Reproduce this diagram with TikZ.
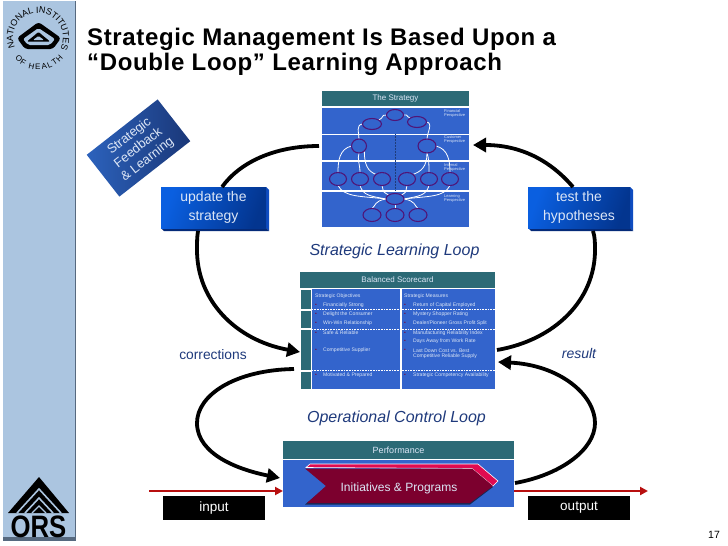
\documentclass[tikz,border=0pt]{standalone}
\usepackage{fontspec}
\usepackage{graphicx}
\setmainfont{Liberation Sans}
\usetikzlibrary{shapes.geometric,decorations.text,arrows.meta}
\definecolor{panel}{HTML}{ABC5E0}
\definecolor{panelshade}{HTML}{56697F}
\definecolor{teal}{HTML}{2C6A76}
\definecolor{band}{HTML}{3364CC}
\definecolor{navy}{HTML}{1F3A7C}
\definecolor{crimson}{HTML}{7C002E}
\definecolor{hotpink}{HTML}{E00A50}
\definecolor{redline}{HTML}{B80F0F}
\definecolor{pale}{HTML}{DCE6F6}
\definecolor{oval}{HTML}{4F1578}
\definecolor{actlight}{HTML}{0A5FE0}
\definecolor{actdark}{HTML}{03358F}
\definecolor{bevelside}{HTML}{0F4CC0}
\definecolor{bevelbot}{HTML}{052A78}
\definecolor{fblight}{HTML}{2C62BC}
\definecolor{fbdark}{HTML}{1A3778}
\newcommand{\fs}[1]{\fontsize{#1}{#1}\selectfont}
\pgfdeclarelayer{backl}
\pgfdeclarelayer{midl}
\pgfsetlayers{backl,midl,main}
\tikzset{
  rectnode/.style={rectangle,inner sep=0pt,outer sep=0pt,anchor=north west},
  tealbar/.style={rectnode,fill=teal,text=pale,font=\fs{8}},
  bandbox/.style={rectnode,fill=band},
  looplabel/.style={text=navy,font=\fs{16}\itshape,inner sep=0pt},
  sidelabel/.style={text=navy,font=\fs{13.8},inner sep=0pt},
  actionbox/.style={rectnode,left color=actlight,right color=actdark,shading angle=70,text=pale,font=\fs{14},align=center,minimum width=105pt,minimum height=41pt},
  bevel/.style={fill=#1,draw=none},
  blackbox/.style={rectnode,fill=black,text=white,font=\fs{13.5},minimum width=102pt,minimum height=24pt},
  persp/.style={inner sep=0pt,anchor=north west,align=left,text=pale,font=\fs{4}},
  sm/.style={ellipse,draw=oval,line width=1.1pt,fill=band,inner sep=0pt,outer sep=0pt,minimum width=#1*2pt,minimum height=13pt},
  link/.style={draw=white,line width=.8pt},
  bigarc/.style={draw=black,line width=3.8pt},
  bigarrow/.style={draw=black,line width=3.8pt,-{Triangle[length=13pt,width=14pt]}},
  redarrow/.style={draw=redline,line width=2.4pt,-{Triangle[length=8pt,width=8pt]}},
  cell/.style={inner sep=0pt,anchor=west,text=pale,font=\fs{5.1},align=left},
  bul/.style={inner sep=0pt,anchor=center,text=crimson,font=\fs{5}},
}
\begin{document}
\begin{tikzpicture}[x=1pt,y=-1pt]
\useasboundingbox (0,0) rectangle (728,546);
\begin{pgfonlayer}{backl}
\fill[white] (0,0) rectangle (728,546);
\node[tealbar,minimum width=147pt,minimum height=15pt] (sthead) at (322,91) {The Strategy};
\node[bandbox,minimum width=147pt,minimum height=26pt] (b1) at (322,108) {};
\node[bandbox,minimum width=147pt,minimum height=25pt] (b2) at (322,135) {};
\node[bandbox,minimum width=147pt,minimum height=28pt] (b3) at (322,162) {};
\node[bandbox,minimum width=147pt,minimum height=35pt] (b4) at (322,192) {};
\end{pgfonlayer}
% side panel
\fill[panelshade] (3,1) rectangle (76,541);
\fill[panel] (3,1) rectangle (74.5,537);
% NIH seal
\begin{scope}[x=1pt,y=1pt,shift={(38pt,-38pt)}]
\path[decorate,decoration={text along path,text={|\fs{9}|NATIONAL INSTITUTES},text align={fit to path}}] (203:25) arc[start angle=203,end angle=-25,radius=25];
\path[decorate,decoration={text along path,text={|\fs{8}|OF},text align={left}}] (222:31) arc[start angle=222,end angle=250,radius=31];
\path[decorate,decoration={text along path,text={|\fs{8}|HEALTH},text align={fit to path}}] (252:32) arc[start angle=252,end angle=322,radius=32];
\end{scope}
\fill[black,rounded corners=3pt] (38.5,22) -- (17,38) -- (25,49) -- (53,49) -- (61,38) -- cycle;
\fill[panel,rounded corners=2pt] (38.5,28) -- (23,39) -- (28,45) -- (50,45) -- (55,39) -- cycle;
\fill[black,rounded corners=1pt] (38.5,32) -- (27,41.5) -- (50,41.5) -- cycle;
\fill[panel,rounded corners=1pt] (38.5,36) -- (33,40) -- (44,40) -- cycle;
% ORS logo
\fill[black] (39,477) -- (8,513) -- (69,513) -- cycle;
\draw[panel,line width=1.6pt] (17,513) -- (39,489) -- (61,513);
\draw[panel,line width=1.6pt] (25,513) -- (39,498) -- (53,513);
\draw[panel,line width=1.4pt] (32,513) -- (39,506) -- (46,513);
\node[inner sep=0pt,font=\fs{31}\bfseries,text=black] (ors) at (38.5,527) {\scalebox{.83}[1]{ORS}};
% title
\node[inner sep=0pt,anchor=west,font=\fs{24}\bfseries\addfontfeature{LetterSpace=2.7},text=black,align=left] (title) at (87,52) {Strategic Management Is Based Upon a\\[1pt]“Double Loop” Learning Approach};
% feedback box
\node[rectangle,rotate=38,minimum width=90pt,minimum height=53pt,inner sep=0pt,left color=fblight,right color=fbdark,text=pale,font=\fs{13},align=center] (feedback) at (138.5,148) {Strategic\\[1.7pt]Feedback\\[1.7pt]\& Learning};
% Strategy map
\draw[black!40!band,densely dotted,line width=.5pt] (395,134) -- (395,190);
\node[persp] (p1) at (444,109) {Financial\\Perspective};
\node[persp] (p2) at (444,136) {Customer\\Perspective};
\node[persp] (p3) at (444,163) {Internal\\Perspective};
\node[persp] (p4) at (444,194) {Learning\\Perspective};
\node[sm=8.5,minimum height=11pt] (t) at (395,115) {};
\node[sm=9.5,minimum height=11pt] (tl) at (372,124) {};
\node[sm=9.5,minimum height=11pt] (tr) at (417,122) {};
\node[sm=7.5,minimum height=14pt] (cl) at (359,146) {};
\node[sm=9,minimum height=14pt] (cr) at (427,146) {};
\foreach \n/\x in {i1/338,i2/360,i3/382,i4/407,i5/429,i6/450} \node[sm=8.5] (\n) at (\x,179) {};
\node[sm=9,minimum height=11pt] (h) at (395,199) {};
\foreach \n/\x in {l1/372,l2/395,l3/418} \node[sm=9] (\n) at (\x,215) {};
\begin{pgfonlayer}{midl}
\draw[link] (t.west) .. controls +(-6,0) and +(6,-3) .. (tl.north east);
\draw[link] (t.east) .. controls +(6,0) and +(-6,-3) .. (tr.north west);
\draw[link] (tl.west) .. controls +(-7,1) and +(0,-6) .. (cl.north);
\draw[link] (tr.east) .. controls +(7,1) and +(0,-6) .. (cr.north);
\draw[link] (cl.west) .. controls +(-12,3) and +(0,-12) .. (i1.north);
\draw[link] (cl.south) .. controls +(-2,6) and +(0,-8) .. (i2.north);
\draw[link] (cl.south east) .. controls +(0,14) and +(-8,-3) .. (i3.north west);
\draw[link] (cr.south) .. controls +(0,14) and +(8,-3) .. (i4.north east);
\draw[link] (cr.south) .. controls +(2,6) and +(0,-8) .. (i5.north);
\draw[link] (cr.east) .. controls +(12,3) and +(0,-12) .. (i6.north);
\draw[link] (i1.south) .. controls +(6,12) and +(-24,-3) .. (h.west);
\draw[link] (i2.south) .. controls +(3,10) and +(-16,-3) .. (h.west);
\draw[link] (i3.south) .. controls +(2,8) and +(-6,-4) .. (h.north west);
\draw[link] (i4.south) .. controls +(-2,8) and +(6,-4) .. (h.north east);
\draw[link] (i5.south) .. controls +(-3,10) and +(16,-3) .. (h.east);
\draw[link] (i6.south) .. controls +(-6,12) and +(24,-3) .. (h.east);
\draw[link] (h.west) .. controls +(-12,2) and +(4,-3) .. (l1.north);
\draw[link] (h.south) -- (l2.north);
\draw[link] (h.east) .. controls +(12,2) and +(-4,-3) .. (l3.north);
\end{pgfonlayer}
% Action boxes
\fill[bevel=bevelside] (266,187) -- (269,190) -- (269,231) -- (266,228) -- cycle;
\fill[bevel=bevelbot] (161,228) -- (266,228) -- (269,231) -- (164,231) -- cycle;
\node[actionbox] (update) at (161,187) {update the\\[5pt]strategy};
\fill[bevel=bevelside] (630,187) -- (633,190) -- (633,231) -- (630,228) -- cycle;
\fill[bevel=bevelbot] (528,228) -- (630,228) -- (633,231) -- (531,231) -- cycle;
\node[actionbox,minimum width=102pt] (test) at (528,187) {test the\\[5pt]hypotheses};
% Balanced scorecard
\node[tealbar,minimum width=195pt,minimum height=16pt] (bhead) at (300,272) {Balanced Scorecard};
\node[rectnode,fill=teal,minimum width=10pt,minimum height=19pt] (s1) at (301,290) {};
\node[rectnode,fill=teal,minimum width=10pt,minimum height=17pt] (s2) at (301,311) {};
\node[rectnode,fill=teal,minimum width=10pt,minimum height=40pt] (s3) at (301,330) {};
\node[rectnode,fill=teal,minimum width=10pt,minimum height=17pt] (s4) at (301,372) {};
\node[bandbox,minimum width=88pt,minimum height=100pt] (objs) at (312,289) {};
\node[bandbox,minimum width=93pt,minimum height=100pt] (meas) at (402,289) {};
\foreach \y in {309.5,329,370.5} \draw[white,densely dotted,line width=.6pt] (312,\y) -- (495,\y);
\foreach \tx/\y [count=\i] in {{Financially Strong}/305.5,{Delight the Consumer}/314.5,{Win-Win Relationship}/323.5,{Safe \& Reliable}/333,{Competitive Supplier}/350.5,{Motivated \& Prepared}/375} {\node[bul] (ob\i) at (316,\y) {•}; \node[cell] (ot\i) at (323,\y) {\tx};}
\foreach \tx/\y [count=\i] in {{Return of Capital Employed}/305.5,{Mystery Shopper Rating}/314.5,{Dealer/Pioneer Gross Profit Split}/323.5,{Manufacturing Reliability Index}/333,{Days Away from Work Rate}/341.5,{Last Down Cost vs. Best}/350.5,{Strategic Competency Availability}/375} {\node[bul] (mb\i) at (405,\y) {•}; \node[cell] (mt\i) at (413,\y) {\tx};}
\node[cell] (cr2) at (413,356.5) {Competitive Reliable Supply};
\node[cell] (oh) at (315,296.5) {Strategic Objectives};
\node[cell] (mh) at (404,296.5) {Strategic Measures};
% Performance
\node[tealbar,font=\fs{9},minimum width=231pt,minimum height=18pt] (phead) at (283,441) {Performance};
\node[bandbox,minimum width=231pt,minimum height=47pt] (pbody) at (283,460) {};
\fill[navy!70!black] (305,504.5) -- (326,487) -- (493,487) -- (470,504.5) -- cycle;
\draw[white,fill=hotpink,line width=.6pt] (306,467.5) -- (310,464) -- (478,464) -- (498,481) -- (493,486) -- (472,468.5) -- cycle;
\fill[crimson] (305,468.5) -- (472,468.5) -- (493,486) -- (470,503) -- (307,503) -- (326,486) -- cycle;
\node[inner sep=0pt,text=pale,font=\fs{12}] (prog) at (399,488.5) {Initiatives \& Programs};
% Labels
\node[looplabel] (sl) at (394.5,251.5) {Strategic Learning Loop};
\node[looplabel] (ol) at (396.5,418.5) {Operational Control Loop};
\node[sidelabel] (corr) at (213,354.5) {corrections};
\node[sidelabel,font=\fs{14}\itshape] (res) at (579,353) {result};
\node[blackbox] (input) at (163,496) {\raisebox{-1.5pt}{input}};
\node[blackbox] (output) at (528,496) {\raisebox{-1.5pt}{output}};
\node[inner sep=0pt,font=\fs{10.5},text=black] (num) at (714,535) {17};
% Coordinates of the free ends
\coordinate (a1) at (319,146);
\coordinate (a2) at (222,187);
\coordinate (a3) at (198,231);
\coordinate (a4) at (300,352);
\coordinate (a5) at (294,369);
\coordinate (a6) at (280,478);
\coordinate (a7) at (473,145);
\coordinate (a8) at (573,187);
\coordinate (a9) at (593,231);
\coordinate (a10) at (497,350);
\coordinate (a11) at (515,483);
\coordinate (a12) at (498,362);
\coordinate (r1) at (149,491);
\coordinate (r2) at (514,491);
\coordinate (r3) at (648,491);
% Loops
\draw[bigarc] (a1) .. controls (275,146) and (240,162) .. (a2);
\draw[bigarrow] (a3) .. controls (197,237) and (197,243) .. (197,250) .. controls (197,300) and (235,340) .. (a4);
\draw[bigarrow] (a5) .. controls (235,370) and (197,395) .. (197,423) .. controls (197,455) and (240,470) .. (a6);
\draw[bigarrow] (a8) .. controls (550,160) and (520,145) .. (a7);
\draw[bigarc] (a9) .. controls (595,237) and (595,243) .. (595,250) .. controls (595,300) and (555,340) .. (a10);
\draw[bigarrow] (a11) .. controls (560,475) and (595,450) .. (595,423) .. controls (595,395) and (560,365) .. (a12);
\draw[redarrow] (r1) -- (pbody.west |- r1);
\draw[redarrow] (r2) -- (r3);
\end{tikzpicture}
\end{document}
